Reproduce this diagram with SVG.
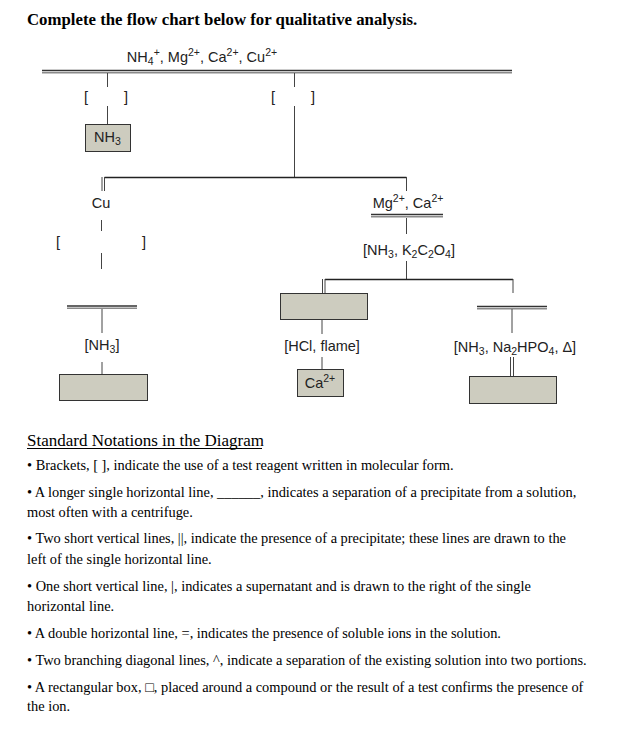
<svg xmlns="http://www.w3.org/2000/svg" width="631" height="740" viewBox="0 0 631 740">
<style>
.t{font-family:"Liberation Sans",Arial,sans-serif;font-size:14.5px;fill:#222}
.c{text-anchor:middle}
.s{font-size:10.5px}
.ln{stroke:#444;stroke-width:1;fill:none}
.hl{stroke:#222;stroke-width:1.3;fill:none}
.d1{stroke:#333;stroke-width:1.4}
.d2{stroke:#8a8a8a;stroke-width:1.6}
.box{fill:#cdccbf;stroke:#333;stroke-width:1}
.tt{font-family:"Liberation Serif","Times New Roman",serif;font-size:14.4px;fill:#000}
.h{font-family:"Liberation Serif","Times New Roman",serif;font-size:16.8px;font-weight:bold;fill:#000}
</style>
<rect width="631" height="740" fill="#fff"/>
<text class="h" x="27" y="25">Complete the flow chart below for qualitative analysis.</text>

<g id="start">
<text class="t c" x="202" y="62">NH<tspan class="s" dy="3">4</tspan><tspan class="s" dy="-9">+</tspan><tspan dy="6">, Mg</tspan><tspan class="s" dy="-6">2+</tspan><tspan dy="6">, Ca</tspan><tspan class="s" dy="-6">2+</tspan><tspan dy="6">, Cu</tspan><tspan class="s" dy="-6">2+</tspan></text>
</g>

<g id="connectors">
<line class="d1" x1="42" y1="70.5" x2="512" y2="70.5"/>
<line class="d2" x1="42" y1="72.8" x2="512" y2="72.8"/>
<line class="ln" x1="107.5" y1="73" x2="107.5" y2="87"/>
<line class="ln" x1="107.5" y1="106" x2="107.5" y2="124"/>
<line class="ln" x1="294.5" y1="73" x2="294.5" y2="87"/>
<line class="ln" x1="294.5" y1="106" x2="294.5" y2="177"/>
<line class="hl" x1="104.5" y1="177.5" x2="406.5" y2="177.5"/>
<line class="ln" x1="406.5" y1="177" x2="406.5" y2="191"/>
<line class="ln" x1="102" y1="177" x2="102" y2="191"/>
<line class="ln" x1="104.5" y1="177" x2="104.5" y2="191"/>
<line class="ln" x1="101.5" y1="220" x2="101.5" y2="231"/>
<line class="ln" x1="101.5" y1="253" x2="101.5" y2="269"/>
<line class="d1" x1="67" y1="306" x2="137" y2="306"/>
<line class="d2" x1="67" y1="308.3" x2="137" y2="308.3"/>
<line class="ln" x1="102" y1="309" x2="102" y2="333"/>
<line class="ln" x1="102" y1="362" x2="102" y2="374"/>
<line class="d1" x1="371" y1="214.5" x2="443" y2="214.5"/>
<line class="d2" x1="371" y1="216.8" x2="443" y2="216.8"/>
<line class="ln" x1="406.5" y1="218" x2="406.5" y2="234"/>
<line class="ln" x1="406.5" y1="261" x2="406.5" y2="279"/>
<line class="hl" x1="325" y1="279.5" x2="513" y2="279.5"/>
<line class="ln" x1="513" y1="279" x2="513" y2="293"/>
<line class="ln" x1="322.5" y1="279" x2="322.5" y2="293"/>
<line class="ln" x1="325" y1="279" x2="325" y2="293"/>
<line class="ln" x1="322" y1="319" x2="322" y2="334"/>
<line class="ln" x1="322" y1="357" x2="322" y2="369"/>
<line class="d1" x1="477" y1="306.5" x2="547" y2="306.5"/>
<line class="d2" x1="477" y1="308.8" x2="547" y2="308.8"/>
<line class="ln" x1="512" y1="309" x2="512" y2="333"/>
<line class="ln" x1="510.5" y1="357" x2="510.5" y2="376"/>
<line class="ln" x1="513.5" y1="357" x2="513.5" y2="376"/>
</g>

<g id="reagent1">
<text class="t" x="84" y="102">[</text>
<text class="t" x="124" y="102">]</text>
</g>
<g id="nh3box">
<rect class="box" x="85.5" y="124.5" width="45" height="27"/>
<text class="t c" x="107.5" y="142">NH<tspan class="s" dy="3">3</tspan></text>
</g>
<g id="reagent2">
<text class="t" x="271" y="102">[</text>
<text class="t" x="311" y="102">]</text>
</g>
<g id="cu">
<text class="t c" x="101" y="208">Cu</text>
</g>
<g id="reagent3">
<text class="t" x="56" y="247">[</text>
<text class="t" x="142" y="247">]</text>
</g>
<g id="nh3reagent">
<text class="t c" x="102" y="350">[NH<tspan class="s" dy="3">3</tspan><tspan dy="-3">]</tspan></text>
</g>
<g id="box1">
<rect class="box" x="59.5" y="374.5" width="88" height="26"/>
</g>
<g id="mgca">
<text class="t c" x="408" y="208">Mg<tspan class="s" dy="-6">2+</tspan><tspan dy="6">, Ca</tspan><tspan class="s" dy="-6">2+</tspan></text>
</g>
<g id="reagent4">
<text class="t c" x="409" y="255">[NH<tspan class="s" dy="3">3</tspan><tspan dy="-3">, K</tspan><tspan class="s" dy="3">2</tspan><tspan dy="-3">C</tspan><tspan class="s" dy="3">2</tspan><tspan dy="-3">O</tspan><tspan class="s" dy="3">4</tspan><tspan dy="-3">]</tspan></text>
</g>
<g id="box2">
<rect class="box" x="280.5" y="293.5" width="87" height="26"/>
</g>
<g id="reagent5">
<text class="t c" x="322" y="351">[HCl, flame]</text>
</g>
<g id="cabox">
<rect class="box" x="297.5" y="369.5" width="46" height="27"/>
<text class="t c" x="320" y="388">Ca<tspan class="s" dy="-6">2+</tspan></text>
</g>
<g id="reagent6">
<text class="t c" x="515" y="352">[NH<tspan class="s" dy="3">3</tspan><tspan dy="-3">, Na</tspan><tspan class="s" dy="3">2</tspan><tspan dy="-3">HPO</tspan><tspan class="s" dy="3">4</tspan><tspan dy="-3">, Δ]</tspan></text>
</g>
<g id="box3">
<rect class="box" x="469.5" y="376.5" width="87" height="27"/>
</g>

<g id="notes">
<text class="tt" x="27" y="446" style="font-size:17px">Standard Notations in the Diagram</text>
<line x1="27" y1="448.5" x2="262" y2="448.5" stroke="#000" stroke-width="1"/>
<text class="tt" x="27" y="470">• Brackets, [ ], indicate the use of a test reagent written in molecular form.</text>
<text class="tt" x="27" y="497">• A longer single horizontal line, ______, indicates a separation of a precipitate from a solution,</text>
<text class="tt" x="27" y="517">most often with a centrifuge.</text>
<text class="tt" x="27" y="543">• Two short vertical lines, ||, indicate the presence of a precipitate; these lines are drawn to the</text>
<text class="tt" x="27" y="564">left of the single horizontal line.</text>
<text class="tt" x="27" y="591">• One short vertical line, |, indicates a supernatant and is drawn to the right of the single</text>
<text class="tt" x="27" y="611">horizontal line.</text>
<text class="tt" x="27" y="638">• A double horizontal line, =, indicates the presence of soluble ions in the solution.</text>
<text class="tt" x="27" y="665">• Two branching diagonal lines, ^, indicate a separation of the existing solution into two portions.</text>
<text class="tt" x="27" y="692">• A rectangular box, □, placed around a compound or the result of a test confirms the presence of</text>
<text class="tt" x="27" y="711">the ion.</text>
</g>
</svg>
